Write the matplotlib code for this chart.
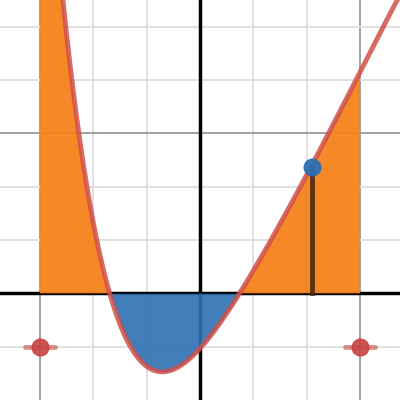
import numpy as np
import matplotlib
matplotlib.use("Agg")
import matplotlib.pyplot as plt

# curve samples
curve_x = [-2.575, -2.406, -2.256, -2.105, -1.936, -1.729, -1.316, -0.695, 0.0, 0.752, 1.372, 1.842, 2.105, 2.35, 2.95, 3.70]
curve_y = [5.51, 4.00, 2.97, 1.99, 1.00, 0.0, -1.02, -1.39, -1.02, 0.0, 1.00, 1.99, 2.37, 2.97, 4.00, 5.51]
bounds_x = [-3, 3]
bounds_y = [-1, -1]
point_x = 2.1
point_y = 2.37

coef = np.polyfit(curve_x, curve_y, 5)
xs = np.linspace(-2.7, 3.8, 800)
ys = np.polyval(coef, xs)
xf = np.linspace(bounds_x[0], bounds_x[1], 800)
yf = np.polyval(coef, xf)

fig = plt.figure(figsize=(4, 4), dpi=100)
ax = fig.add_axes([0, 0, 1, 1])
ax.set_xlim(-3.75, 3.75)
ax.set_ylim(-2, 5.5)
for v in np.arange(-3, 4):
    c = '#999999' if v % 3 == 0 else '#dddddd'
    ax.axvline(v, color=c, lw=1.3, zorder=0)
for v in np.arange(-1, 6):
    c = '#999999' if v % 3 == 0 else '#dddddd'
    ax.axhline(v, color=c, lw=1.3, zorder=0)
ax.axhline(0, color='black', lw=2.5, zorder=1)
ax.axvline(0, color='black', lw=2.5, zorder=1)

ax.fill_between(xf, 0, yf, where=yf >= 0, color='#f7821b', alpha=0.95, lw=0, zorder=2, interpolate=True)
ax.fill_between(xf, 0, yf, where=yf <= 0, color='#2d70b3', alpha=0.9, lw=0, zorder=2, interpolate=True)
ax.plot(xs, ys, color='#d0504a', lw=3.5, alpha=0.85, zorder=4, solid_capstyle='round')
ax.plot([point_x, point_x], [0, point_y], color='#4a2a10', lw=3.5, alpha=0.9, zorder=5)
ax.plot([point_x], [point_y], 'o', color='#2d70b3', ms=12, alpha=0.95, zorder=6)
for bx, by in zip(bounds_x, bounds_y):
    ax.plot([bx - 0.28, bx + 0.28], [by, by], color='#c74440', lw=3.5, alpha=0.6, zorder=5, solid_capstyle='round')
    ax.plot([bx], [by], 'o', color='#c74440', ms=12, alpha=0.9, zorder=6)
ax.axis('off')
fig.savefig('out.png', dpi=100)
